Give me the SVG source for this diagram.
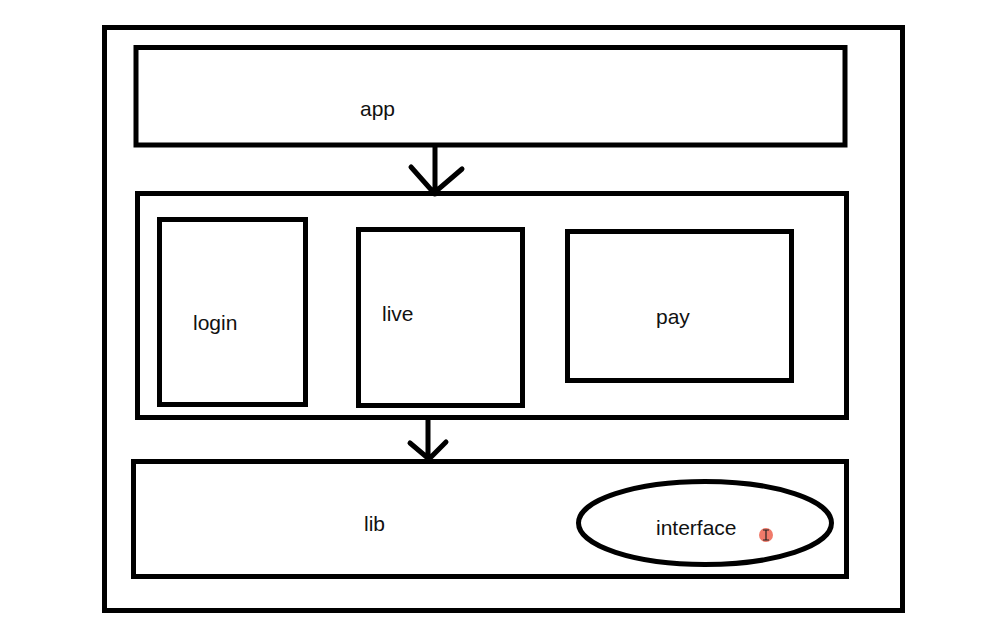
<svg xmlns="http://www.w3.org/2000/svg" width="990" height="644" viewBox="0 0 990 644">
<style>
.box{fill:none;stroke:#000;stroke-width:5}
.ln{fill:none;stroke:#000;stroke-width:5;stroke-linecap:round}
.t{font-family:"Liberation Sans",Arial,sans-serif;font-size:21px;fill:#111}
</style>
<rect width="990" height="644" fill="#fff"/>
<g id="outer"><rect class="box" x="104.5" y="27.5" width="798" height="583"/></g>
<g id="app"><rect class="box" x="136" y="47.5" width="709" height="97.5"/><text class="t" x="360" y="116">app</text></g>
<g id="modules"><rect class="box" x="137.5" y="193.5" width="709" height="224"/></g>
<g id="login"><rect class="box" x="159.5" y="219.5" width="146" height="185"/><text class="t" x="193" y="330">login</text></g>
<g id="live"><rect class="box" x="358.5" y="229.5" width="164" height="176"/><text class="t" x="382" y="321">live</text></g>
<g id="pay"><rect class="box" x="567.5" y="231.5" width="224" height="149"/><text class="t" x="656" y="324">pay</text></g>
<g id="lib"><rect class="box" x="133.5" y="461.5" width="713" height="115"/><text class="t" x="364" y="531">lib</text></g>
<g id="interface"><ellipse class="box" cx="705" cy="523" rx="126.5" ry="41.5"/><text class="t" x="656" y="535">interface</text></g>
<g id="connectors">
<path class="ln" d="M435 146V194M411 167L434 193L462 169"/>
<path class="ln" d="M428 419V460M410 443L429 459L446 442"/>
</g>
<g id="cursor"><circle cx="766" cy="535" r="7" fill="#f07a6a"/><path d="M763 530h6M766 530v10M763 540h6" stroke="#222" stroke-width="1.2" fill="none"/></g>
</svg>
